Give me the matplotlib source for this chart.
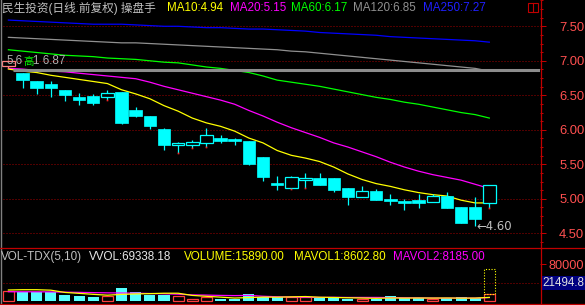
import numpy as np
import matplotlib
matplotlib.use('Agg')
import matplotlib.pyplot as plt
from matplotlib.patches import Rectangle
from matplotlib.lines import Line2D
from matplotlib.ticker import FormatStrFormatter

plt.rcParams['font.family'] = ['Liberation Sans', 'Noto Sans CJK SC', 'DejaVu Sans']

# daily candles (前复权)
opens  = [6.92, 6.83, 6.71, 6.66, 6.58, 6.47, 6.49, 6.47, 6.55, 6.28, 6.20, 6.01, 5.78, 5.78, 5.81, 5.88, 5.86, 5.84, 5.61, 5.23,
          5.16, 5.27, 5.30, 5.30, 5.16, 5.03, 5.11, 4.99, 4.97, 4.98, 4.96, 5.04, 4.88, 4.88, 4.94]
highs  = [7.01, 6.83, 6.71, 6.71, 6.58, 6.53, 6.52, 6.58, 6.55, 6.33, 6.20, 6.03, 5.83, 5.85, 6.03, 5.92, 5.88, 5.84, 5.61, 5.33,
          5.33, 5.37, 5.37, 5.30, 5.16, 5.19, 5.14, 5.07, 5.00, 5.07, 5.07, 5.10, 4.88, 5.03, 5.20]
lows   = [6.89, 6.61, 6.52, 6.47, 6.42, 6.36, 6.36, 6.43, 6.08, 6.19, 6.01, 5.71, 5.66, 5.73, 5.75, 5.81, 5.78, 5.49, 5.26, 5.13,
          5.14, 5.16, 5.20, 5.10, 4.91, 5.03, 4.98, 4.91, 4.84, 4.87, 4.96, 4.87, 4.65, 4.60, 4.87]
closes = [6.99, 6.72, 6.61, 6.61, 6.51, 6.43, 6.39, 6.54, 6.10, 6.20, 6.05, 5.78, 5.81, 5.82, 5.92, 5.84, 5.84, 5.51, 5.32, 5.20,
          5.31, 5.30, 5.20, 5.13, 5.03, 5.11, 4.98, 4.97, 4.94, 4.94, 5.04, 4.87, 4.65, 4.71, 5.20]

ma10  = [6.88, 6.85, 6.83, 6.79, 6.76, 6.73, 6.70, 6.67, 6.58, 6.52, 6.45, 6.35, 6.27, 6.17, 6.10, 6.05, 5.98, 5.88, 5.81, 5.70,
         5.63, 5.59, 5.54, 5.46, 5.36, 5.28, 5.22, 5.18, 5.13, 5.09, 5.06, 5.04, 4.98, 4.94, 4.94]
ma20  = [6.89, 6.88, 6.86, 6.85, 6.84, 6.82, 6.80, 6.78, 6.76, 6.74, 6.69, 6.63, 6.58, 6.53, 6.48, 6.43, 6.37, 6.28, 6.20, 6.11,
         6.03, 5.96, 5.89, 5.81, 5.75, 5.68, 5.61, 5.53, 5.46, 5.40, 5.35, 5.31, 5.27, 5.21, 5.15]
ma60  = [7.16, 7.14, 7.12, 7.10, 7.08, 7.07, 7.06, 7.04, 7.03, 7.02, 7.00, 6.98, 6.97, 6.94, 6.91, 6.89, 6.86, 6.83, 6.78, 6.72,
         6.69, 6.66, 6.63, 6.59, 6.55, 6.51, 6.47, 6.44, 6.40, 6.37, 6.33, 6.29, 6.25, 6.22, 6.17]
ma120 = [7.34, 7.33, 7.32, 7.31, 7.30, 7.29, 7.28, 7.27, 7.26, 7.26, 7.25, 7.24, 7.23, 7.22, 7.21, 7.20, 7.19, 7.18, 7.17, 7.16,
         7.14, 7.13, 7.11, 7.09, 7.07, 7.05, 7.03, 7.01, 6.99, 6.97, 6.95, 6.93, 6.91, 6.89, 6.85]
ma250 = [7.59, 7.58, 7.57, 7.56, 7.55, 7.54, 7.53, 7.53, 7.53, 7.52, 7.51, 7.50, 7.50, 7.49, 7.48, 7.48, 7.47, 7.46, 7.46, 7.45,
         7.44, 7.43, 7.41, 7.40, 7.39, 7.38, 7.37, 7.35, 7.34, 7.33, 7.32, 7.31, 7.30, 7.29, 7.27]

volumes = [21500, 20100, 20100, 20100, 14300, 11550, 9400, 10900, 28700, 19500, 14300, 14300, 10900, 5100, 10000, 5100, 5100,
           15800, 10000, 8800, 8800, 8800, 7900, 7900, 5800, 5800, 5800, 11500, 6600, 6600, 5100, 6600, 10000, 7300, 15890]
mavol1 = [24400, 25000, 25000, 24000, 19200, 17200, 15100, 13300, 15000, 16000, 16600, 17500, 17500, 12800, 10900, 9100, 7200,
          8200, 9200, 9000, 9700, 10400, 8900, 8400, 7800, 7200, 6600, 7400, 7100, 7300, 7100, 7300, 7000, 7100, 8600]
mavol2 = [20700, 20600, 20500, 20300, 19800, 19300, 18800, 18300, 18000, 17600, 16900, 16300, 15400, 13900, 13500, 12800, 12400,
          12900, 11000, 9900, 9400, 8800, 8500, 8800, 8400, 8500, 8500, 8100, 7800, 7600, 7200, 7000, 7200, 7100, 8185]
vvol = 69338.18
high_mark = 6.87
low_mark = 4.60

price_ticks = [4.5, 5.0, 5.5, 6.0, 6.5, 7.0, 7.5]

W, H = 585, 305
def fx(x): return x / W
def fy(y): return 1 - y / H

CYAN = '#00ffff'
VCYAN = '#55ffff'
RED = '#ff3c3c'
AXRED = '#c00000'
LBL = '#ff5050'
FS = 8.4

fig = plt.figure(figsize=(5.85, 3.05), dpi=100, facecolor='black')
step = 14.145
xlo = -8.4 / step
xhi = (540 - 8.4) / step

ax = fig.add_axes([0, fy(247.5), fx(540), 247.5 / H])
ax.set_facecolor('black')
ax.set_xlim(xlo, xhi)
ax.set_ylim(4.294, 7.881)
for s in ax.spines.values():
    s.set_visible(False)
ax.set_xticks([])
ax.yaxis.tick_right()
ax.set_yticks(price_ticks)
ax.set_yticks(np.arange(4.375, 7.88, 0.125), minor=True)
ax.yaxis.set_major_formatter(FormatStrFormatter('%.2f'))
ax.tick_params(axis='y', which='major', direction='out', length=4.3, width=0.72, color=AXRED,
               pad=9.5, labelsize=9.4, labelcolor=LBL)
ax.tick_params(axis='y', which='minor', direction='out', length=2.2, width=0.72, color=AXRED)

idx = np.arange(len(opens))
ax.hlines(price_ticks, xlo + 3 / step, xhi, colors='#a00000', linestyles=(0, (1, 2)), lw=0.72, zorder=1)

ax.plot(idx, ma250, color='#0000ff', lw=0.9, zorder=2)
ax.plot(idx, ma120, color='#909090', lw=0.9, zorder=2)
ax.plot(idx, ma60, color='#00ff00', lw=0.9, zorder=2)
ax.plot(idx, ma20, color='#ff00ff', lw=0.9, zorder=2)
ax.plot(idx, ma10, color='#ffff00', lw=0.9, zorder=2)
ax.hlines(high_mark, xlo + 13 / step, xhi, colors='#8c8c8c', lw=2.2, zorder=3)

bw = 0.88
up_idx = []
for i in idx:
    o, h, l, c = opens[i], highs[i], lows[i], closes[i]
    if c >= o:
        up_idx.append(i)
        col = '#ff8080' if i == 0 else CYAN
        ax.vlines(i, c, h, colors=col, lw=0.9, zorder=4)
        ax.vlines(i, l, o, colors=col, lw=0.9, zorder=4)
        ax.bar(i, c - o, bottom=o, width=bw, facecolor='black', edgecolor=col, lw=0.9, zorder=5)
        if i > 0 and l < o:
            ax.plot(i, l, marker='s', ms=1.2, color='#ff2020', mew=0, zorder=6)
    else:
        ax.vlines(i, l, h, colors=CYAN, lw=0.9, zorder=4)
        ax.bar(i, o - c, bottom=c, width=bw, facecolor=CYAN, edgecolor=CYAN, lw=0.5, zorder=5)

# volume panel
vax = fig.add_axes([0, 0, fx(540), 57.5 / H])
vax.set_facecolor('black')
vax.set_xlim(xlo, xhi)
vax.set_ylim(-7700, 115300)
for s in vax.spines.values():
    s.set_visible(False)
vax.set_xticks([])
vax.yaxis.tick_right()
vax.set_yticks([80000])
vax.set_yticklabels(['80000'])
vax.tick_params(axis='y', direction='out', length=4.3, width=0.72, color=AXRED, pad=1.5,
                labelsize=9.2, labelcolor=LBL)
vax.hlines(40000, xlo + 3 / step, xhi, colors='#a00000', linestyles=(0, (1, 2)), lw=0.72, zorder=1)

vw = 0.78
for i in idx:
    if i in up_idx:
        vax.bar(i, volumes[i], width=vw, facecolor='black', edgecolor=RED, lw=0.9, zorder=2)
    else:
        vax.bar(i, volumes[i], width=vw, color=VCYAN, lw=0, zorder=2)
last = idx[-1]
vax.bar(last, vvol - volumes[-1], bottom=volumes[-1], width=vw, facecolor='none', edgecolor='#ffff00',
        lw=0.8, linestyle=(0, (1, 1.5)), zorder=2)
vax.plot(idx, mavol2, color='#ff00ff', lw=0.9, zorder=3)
vax.plot(idx, mavol1, color='#ffff00', lw=0.9, zorder=3)

# frame lines
fig.add_artist(Line2D([fx(1)] * 2, [0, 1], color='#808080', lw=1.0))
fig.add_artist(Line2D([fx(540.5)] * 2, [0, 1], color=AXRED, lw=0.9))
fig.add_artist(Line2D([0, 1], [fy(247.5)] * 2, color=AXRED, lw=0.9))
fig.add_artist(Line2D([0, 1], [fy(304.3)] * 2, color=AXRED, lw=0.9))

# title texts
ty = fy(8.3)
fig.text(fx(2), ty, '民生投资(日线.前复权) 操盘手', color='#c0c0c0', fontsize=FS, va='center')
fig.text(fx(167), ty, 'MA10:4.94', color='#ffff00', fontsize=FS, va='center')
fig.text(fx(230), ty, 'MA20:5.15', color='#ff00ff', fontsize=FS, va='center')
fig.text(fx(291), ty, 'MA60:6.17', color='#00ff00', fontsize=FS, va='center')
fig.text(fx(352.7), ty, 'MA120:6.85', color='#909090', fontsize=FS, va='center')
fig.text(fx(422.7), ty, 'MA250:7.27', color='#2020ff', fontsize=FS, va='center')
fig.add_artist(Rectangle((fx(528), fy(12)), fx(10), 9 / H, facecolor='none', edgecolor=AXRED, lw=0.8))
fig.add_artist(Line2D([fx(533)] * 2, [fy(12), fy(3)], color=AXRED, lw=0.8))

vy = fy(256.7)
fig.text(fx(1), vy, 'VOL-TDX(5,10)', color='#c0c0c0', fontsize=FS, va='center')
fig.text(fx(89), vy, 'VVOL:69338.18', color='#e8e8e8', fontsize=FS, va='center')
fig.text(fx(184), vy, 'VOLUME:15890.00', color='#ffff00', fontsize=FS, va='center')
fig.text(fx(294), vy, 'MAVOL1:8602.80', color='#ffff00', fontsize=FS, va='center')
fig.text(fx(393), vy, 'MAVOL2:8185.00', color='#ff00ff', fontsize=FS, va='center')

# marks near the historic high line
fig.text(fx(6), fy(61), '5.6', color='#b0b0b0', fontsize=FS, va='center')
fig.text(fx(23), fy(62), '高', color='#00ff00', fontsize=7.5, va='center')
fig.text(fx(33), fy(61), '1 6.87', color='#b0b0b0', fontsize=FS, va='center')
ax.text(33 + 0.05, low_mark, '←' + f'{low_mark:.2f}', color='#c0c0c0', fontsize=FS, va='center', ha='left',
        family=['DejaVu Sans', 'Liberation Sans'], zorder=7)

fig.add_artist(Rectangle((fx(541), fy(290.3)), fx(44), 14.8 / H, facecolor='#000080', edgecolor='none'))
fig.text(fx(542), fy(283), '21494.8', color='#e0e0e0', fontsize=8.4, va='center')

fig.savefig('out.png', dpi=100, facecolor='black')
